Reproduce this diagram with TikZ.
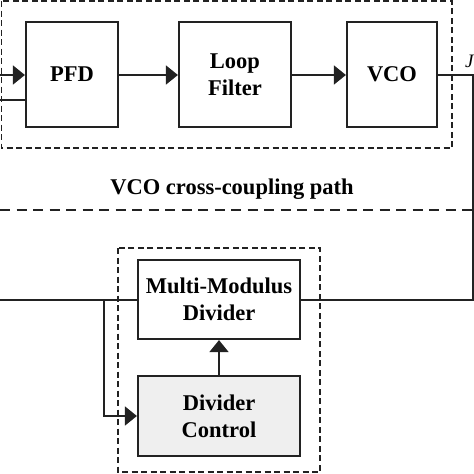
\documentclass[tikz,border=0pt]{standalone}
\usepackage{fontspec}
\setmainfont{Liberation Serif}
\usetikzlibrary{arrows.meta}
\definecolor{ink}{HTML}{222222}
\definecolor{shade}{HTML}{EFEFEF}
\begin{document}
\begin{tikzpicture}[x=1pt,y=-1pt,
  blk/.style={draw=ink,line width=2.2pt,fill=white,minimum width=#1,align=center,
    font=\fontsize{22.5}{27}\selectfont\bfseries,inner sep=0pt},
  blk/.default=92pt,
  conn/.style={draw=ink,line width=1.7pt},
  arr/.style={conn,-{Triangle[length=12pt,width=19pt]}},
  grp/.style={draw=ink,line width=1.6pt,dash pattern=on 6pt off 3.5pt},
  sep/.style={draw=ink,line width=1.9pt,dash pattern=on 10pt off 6.5pt},
  lbl/.style={font=\fontsize{22.5}{27}\selectfont\bfseries,inner sep=0pt}]
\useasboundingbox (0,0) rectangle (474,474);
% groups
\draw[grp] (1.5,1) rectangle (452,148);
\draw[grp] (118,248) rectangle (320,472);
\draw[sep] (0,210) -- (474,210);
\node[lbl] (path) at (232,189) {VCO cross-coupling path};
% blocks
\node[blk,minimum height=105pt] (pfd) at (72,74.5) {PFD};
\node[blk=112pt,minimum height=105pt] (lf) at (235,74.5) {Loop\\Filter};
\node[blk=90pt,minimum height=105pt] (vco) at (392,74.5) {VCO};
\node[blk=162pt,minimum height=79pt] (mmd) at (219,299.5) {Multi-Modulus\\Divider};
\node[blk=162pt,minimum height=80pt,fill=shade] (dc) at (219,416) {Divider\\Control};
% free ends
\coordinate (in1) at (0,75);
\coordinate (in2) at (0,100);
\coordinate (fb) at (0,300);
\coordinate (br) at (104,300);
\coordinate (rc) at (473,75);
\coordinate (rd) at (473,300);
\node[font=\fontsize{19}{22}\selectfont\itshape,anchor=base west,inner sep=0pt] (jl) at (465,67) {J};
% connectors
\draw[arr] (in1) -- (pfd.west |- in1);
\draw[conn] (in2) -- (pfd.west |- in2);
\draw[arr] (pfd.east |- in1) -- (lf.west |- in1);
\draw[arr] (lf.east |- in1) -- (vco.west |- in1);
\draw[conn] (vco.east |- rc) -- (rc) -- (rd) -- (mmd.east |- rd);
\draw[conn] (fb) -- (mmd.west |- fb);
\draw[arr] (br) |- (dc.west);
\draw[arr] (dc.north) -- (mmd.south);
\end{tikzpicture}
\end{document}
